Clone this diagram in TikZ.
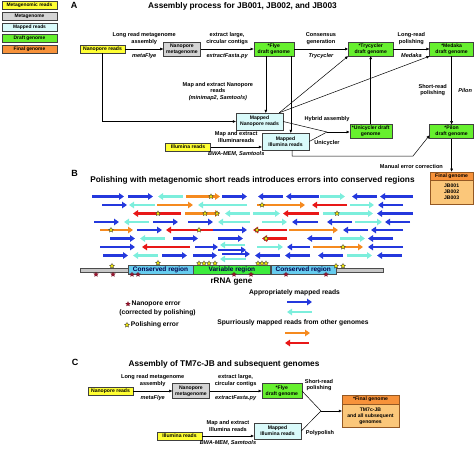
\documentclass[tikz,border=0pt]{standalone}
\usepackage{fontspec}
\setmainfont{Liberation Sans}
\usepackage{xcolor}
\usepackage{tikz}
\usetikzlibrary{positioning, arrows.meta, calc, shapes.geometric}
\definecolor{metayellow}{HTML}{FFFF33}
\definecolor{metagray}{HTML}{D4D4D4}
\definecolor{mapcyan}{HTML}{D9FAFA}
\definecolor{draftgreen}{HTML}{66F02E}
\definecolor{finaldark}{HTML}{F7923A}
\definecolor{finallight}{HTML}{FBC77A}
\definecolor{readblue}{HTML}{2438DD}
\definecolor{readcyan}{HTML}{7CEEDC}
\definecolor{readorange}{HTML}{F58A1F}
\definecolor{readred}{HTML}{E81818}
\definecolor{regioncyan}{HTML}{66CCEE}
\definecolor{regiongreen}{HTML}{3CEB3C}
\definecolor{errred}{HTML}{A3122E}
\newcommand{\lblfont}{\fontsize{5.6}{6.4}\selectfont\bfseries}
\newcommand{\boxfont}{\fontsize{5.1}{6}\selectfont\bfseries}
\newcommand{\keyfont}{\fontsize{6.7}{7.5}\selectfont\bfseries}
\newcommand{\titlefont}{\fontsize{8.3}{9}\selectfont\bfseries}

\begin{document}
\begin{tikzpicture}[x=1pt, y=-1pt,
  gbox/.style={rectangle, draw=black!75, line width=0.4pt, inner sep=0.5pt, align=center, font=\boxfont},
  readsbox/.style={gbox, fill=metayellow, minimum width=45pt, minimum height=8pt},
  metabox/.style={gbox, fill=metagray, minimum width=37pt, minimum height=14pt},
  mapbox/.style={gbox, fill=mapcyan, minimum width=47pt, minimum height=17pt},
  draftbox/.style={gbox, fill=draftgreen, minimum width=44pt, minimum height=14pt},
  finalhead/.style={gbox, fill=finaldark, draw=finaldark!60!black, minimum width=43pt, minimum height=8pt},
  finalbody/.style={gbox, fill=finallight, draw=finaldark!60!black, minimum width=43pt, minimum height=24pt},
  legbox/.style={gbox, minimum width=55pt, minimum height=8pt, font=\fontsize{4.9}{5.5}\selectfont\bfseries},
  region/.style={rectangle, draw=black!70, line width=0.4pt, minimum height=9pt, inner sep=0pt,
    text=blue!30!black, font=\fontsize{6.5}{6.5}\selectfont\bfseries},
  lbl/.style={inner sep=0.5pt, align=center, font=\lblfont},
  itlbl/.style={lbl, font=\lblfont\itshape},
  keylbl/.style={inner sep=0.5pt, font=\keyfont},
  title/.style={inner sep=0pt, font=\titlefont},
  panel/.style={inner sep=0pt, font=\fontsize{9}{10}\selectfont\bfseries},
  arr/.style={-{Triangle[length=3pt, width=2.6pt]}, line width=0.5pt},
  read/.style={line width=2.2pt, -{Triangle[length=5pt, width=6.5pt]}},
  errstar/.style={star, star points=5, star point ratio=2.3, fill=errred, draw=errred!60!black,
    line width=0.2pt, minimum size=4.8pt, inner sep=0pt},
  polstar/.style={star, star points=5, star point ratio=2.3, fill=yellow, draw=black!80,
    line width=0.3pt, minimum size=5.3pt, inner sep=0pt}
]
\useasboundingbox (0,0) rectangle (474,448);

\node[legbox, fill=metayellow] (legreads) at (29.5,5.5) {Metagenomic reads};
\node[legbox, fill=metagray, below=2.6pt of legreads] (legmeta) {Metagenome};
\node[legbox, fill=mapcyan, below=2.6pt of legmeta] (legmapped) {Mapped reads};
\node[legbox, fill=draftgreen, below=2.6pt of legmapped] (legdraft) {Draft genome};
\node[legbox, fill=finaldark, below=2.6pt of legdraft] (legfinal) {Final genome};

\node[panel] (panelA) at (74,5) {A};
\node[title] (titleA) at (242.5,6.5) {Assembly process for JB001, JB002, and JB003};

\node[readsbox] (nanoA) at (102.5,49) {Nanopore reads};
\node[metabox, right=38pt of nanoA] (metaA) {Nanopore\\metagenome};
\node[draftbox, minimum width=40pt, right=53pt of metaA] (flyeA) {*Flye\\draft genome};
\node[draftbox, minimum width=45pt, right=54pt of flyeA] (trycA) {*Trycycler\\draft genome};
\node[draftbox, right=36pt of trycA] (medakaA) {*Medaka\\draft genome};
\node[draftbox, below=68pt of medakaA] (pilonA) {*Pilon\\draft genome};
\node[draftbox, minimum width=42pt, below=68pt of trycA] (uniA) {*Unicycler draft\\genome};
\node[finalhead, below=33pt of pilonA] (finalA) {Final genome};
\node[finalbody, below=0pt of finalA] (finalAbody) {JB001\\JB002\\JB003};
\node[mapbox] (mapnanoA) at (259.5,121.5) {Mapped\\Nanopore reads};
\node[mapbox] (mapillA) at (285.5,141.5) {Mapped\\Illumina reads};
\node[readsbox] (illA) at (188,147) {Illumina reads};

\draw[arr] (nanoA) -- node[lbl, above=4pt]{Long read metagenome\\assembly} node[itlbl, below=4pt]{metaFlye} (metaA);
\draw[arr] (metaA) -- node[lbl, above=4pt]{extract large,\\circular contigs} node[itlbl, below=4pt]{extractFasta.py} (flyeA);
\draw[arr] (flyeA) -- node[lbl, above=4pt]{Consensus\\generation} node[itlbl, below=4pt]{Trycycler} (trycA);
\draw[arr] (trycA) -- node[lbl, above=4pt]{Long-read\\polishing} node[itlbl, below=4pt]{Medaka} (medakaA);
\draw[arr] (medakaA) -- node[lbl, left=4pt]{Short-read\\polishing} node[itlbl, right=6pt]{Pilon} (pilonA);
\draw[arr] (pilonA) -- node[lbl, pos=0.85, left=8pt]{Manual error correction} (finalA);
\draw[arr] (nanoA.south) |- (mapnanoA.west);
\draw[arr] ([xshift=-8pt]flyeA.south) -- node[lbl, pos=0.62, left=12pt]{Map and extract Nanopore\\reads\\\textit{(minimap2, Samtools)}} ([xshift=-8pt]flyeA.south |- mapnanoA.north);
\draw[arr] ([xshift=17pt]flyeA.south) -- ([xshift=17pt]flyeA.south |- mapillA.north);
\draw[arr] ([xshift=-4pt]mapnanoA.north east) -- (trycA.south west);
\draw[arr] ([xshift=-4pt]mapnanoA.north east) -- (medakaA.south west);
\draw[arr] (illA.east) -- node[lbl, above=4pt]{Map and extract\\Illuminareads} node[itlbl, below=4pt]{BWA-MEM, Samtools} (illA.east -| mapillA.west);
\coordinate (hybA) at (327,132);
\draw[line width=0.5pt] (mapnanoA.east) -- (hybA);
\draw[line width=0.5pt] (mapillA.east) -- (hybA);
\draw[arr] (hybA) -- (hybA -| uniA.west);
\node[lbl, above=10pt] (hyblbl) at (hybA) {Hybrid assembly};
\node[lbl, below=8pt] (unilbl) at (hybA) {Unicycler};
\draw[arr] (uniA) -- (trycA);
\coordinate (bendA) at (413,156);
\draw[arr] ([xshift=6.5pt]mapillA.south) |- (bendA) -- ([yshift=-4pt]pilonA.west);

\node[panel] (panelB) at (74.5,173) {B};
\node[title] (titleB) at (252.5,180.5) {Polishing with metagenomic short reads introduces errors into conserved regions};
\foreach \y/\a/\b/\c in {
  196.5/92/124/readblue, 196.5/128/153/readblue, 196.5/183/158/readcyan, 196.5/186/220/readorange,
  196.5/222/247/readblue, 196.5/283/258/readblue, 196.5/319/286/readblue, 196.5/320/345/readcyan,
  196.5/377/352/readblue, 196.5/413/380/readblue,
  205/102/127/readblue, 205/155/129/readcyan, 205/157/193/readorange, 205/247/198/readcyan,
  205/257/305/readorange, 205/347/312/readred, 205/350/374/readcyan, 205/403/378/readblue,
  213.5/181/133/readred, 213.5/185/220/readorange, 213.5/250/225/readcyan, 213.5/253/280/readcyan,
  213.5/319/283/readred, 213.5/323/373/readcyan, 213.5/413/377/readblue,
  222/94/119/readblue, 222/149/124/readcyan, 222/153/178/readblue, 222/188/213/readblue,
  222/250/218/readcyan, 222/262/287/readcyan, 222/318/292/readblue, 222/352/327/readblue,
  222/355/382/readcyan, 222/410/385/readblue,
  230/100/133/readorange, 230/137/162/readblue, 230/213/166/readred, 230/213/247/readblue,
  230/287/253/readred, 230/289/338/readorange, 230/368/343/readblue, 230/403/371/readblue,
  238.5/110/135/readblue, 238.5/165/140/readcyan, 238.5/173/198/readblue, 238.5/218/243/readblue,
  238.5/287/262/readred, 238.5/332/307/readblue, 238.5/340/365/readcyan, 238.5/393/368/readblue,
  247/100/135/readblue, 247/190/142/readred, 247/195/218/readblue, 245/245/220/readcyan,
  250/218/246/readblue, 247/257/283/readcyan, 247/310/287/readblue, 247/313/363/readorange,
  247/403/368/readblue,
  255.5/103/128/readblue, 255.5/158/133/readcyan, 255.5/162/187/readblue, 255.5/193/217/readblue,
  254/222/250/readblue, 259/246/220/readcyan, 255.5/280/255/readblue, 255.5/310/285/readblue,
  255.5/343/318/readblue, 255.5/347/372/readcyan, 255.5/402/377/readblue}
  \draw[read, \c] (\a,\y) -- (\b,\y);

\draw[draw=black!70, fill=black!22, line width=0.4pt] (80,268) rectangle (383,272.5);
\node[region, fill=regioncyan, minimum width=65pt] (cons1) at (160.5,269.5) {Conserved region};
\node[region, fill=regiongreen, minimum width=77pt, right=0pt of cons1] (varreg) {Variable region};
\node[region, fill=regioncyan, minimum width=65pt, right=0pt of varreg] (cons2) {Conserved region};
\node[inner sep=0pt, font=\fontsize{8.1}{9}\selectfont\bfseries] (rrna) at (231.5,281.5) {rRNA gene};

\foreach \x in {96,113,132,138,234,251,286,326}
  \node[errstar] at (\x,274.5) {};
\foreach \x/\y in {112/266, 158/263, 199/263.5, 204/263.5, 209/263.5, 215/263.5, 258/263.5, 262/263.5,
  266/263.5, 336/266, 343/266, 211/196.5, 262/205, 158/213.5, 205/213.5, 217/213.5, 337/213.5,
  111/230, 199/230, 257/230, 266/238.5, 343/247}
  \node[polstar] at (\x,\y) {};

\node[errstar] (errkey) at (128,304) {};
\node[keylbl, right=1.5pt of errkey] (errtxt) {Nanopore error};
\node[keylbl] (errtxt2) at (157.5,313) {(corrected by polishing)};
\node[polstar] (polkey) at (127,325) {};
\node[keylbl, right=1.5pt of polkey] (poltxt) {Polishing error};
\node[keylbl] (goodtxt) at (294.5,293) {Appropriately mapped reads};
\draw[read, readblue] (287,302) -- (312,302);
\draw[read, readcyan] (312,312) -- (287,312);
\node[keylbl] (badtxt) at (293,323) {Spurriously mapped reads from other genomes};
\draw[read, readorange] (285,333) -- (310,333);
\draw[read, readred] (309,343) -- (285,343);

\node[panel] (panelC) at (75,362) {C};
\node[title] (titleC) at (224,364.5) {Assembly of TM7c-JB and subsequent genomes};
\node[readsbox] (nanoC) at (110.5,391) {Nanopore reads};
\node[metabox, minimum height=15pt, right=39pt of nanoC] (metaC) {Nanopore\\metagenome};
\node[draftbox, minimum width=40pt, minimum height=15pt, right=52pt of metaC] (flyeC) {*Flye\\draft genome};
\node[mapbox, minimum height=16pt] (mapillC) at (277.5,431) {Mapped\\Illumina reads};
\node[readsbox] (illC) at (179.5,436) {Illumina reads};
\node[finalhead, minimum width=57pt, minimum height=9pt] (finalC) at (370.5,399.5) {*Final genome};
\node[finalbody, minimum width=57pt, minimum height=23pt, below=0pt of finalC] (finalCbody) {TM7c-JB\\and all subsequent\\genomes};
\draw[arr] (nanoC) -- node[lbl, above=4pt]{Long read metagenome\\assembly} node[itlbl, below=4pt]{metaFlye} (metaC);
\draw[arr] (metaC) -- node[lbl, above=4pt]{extract large,\\circular contigs} node[itlbl, below=4pt]{extractFasta.py} (flyeC);
\draw[arr] (illC) -- node[lbl, above=4pt]{Map and extract\\Illumina reads} node[itlbl, below=4pt]{BWA-MEM, Samtools} (illC -| mapillC.west);
\coordinate (jnC) at (321,411);
\draw[line width=0.5pt] (flyeC.east) -- (jnC);
\draw[line width=0.5pt] (mapillC.east) -- (jnC);
\draw[arr] (jnC) -- (jnC -| finalCbody.west);
\node[lbl] (srlbl) at (319,385) {Short-read\\polishing};
\node[lbl] (pplbl) at (320,433) {Polypolish};
\end{tikzpicture}
\end{document}
